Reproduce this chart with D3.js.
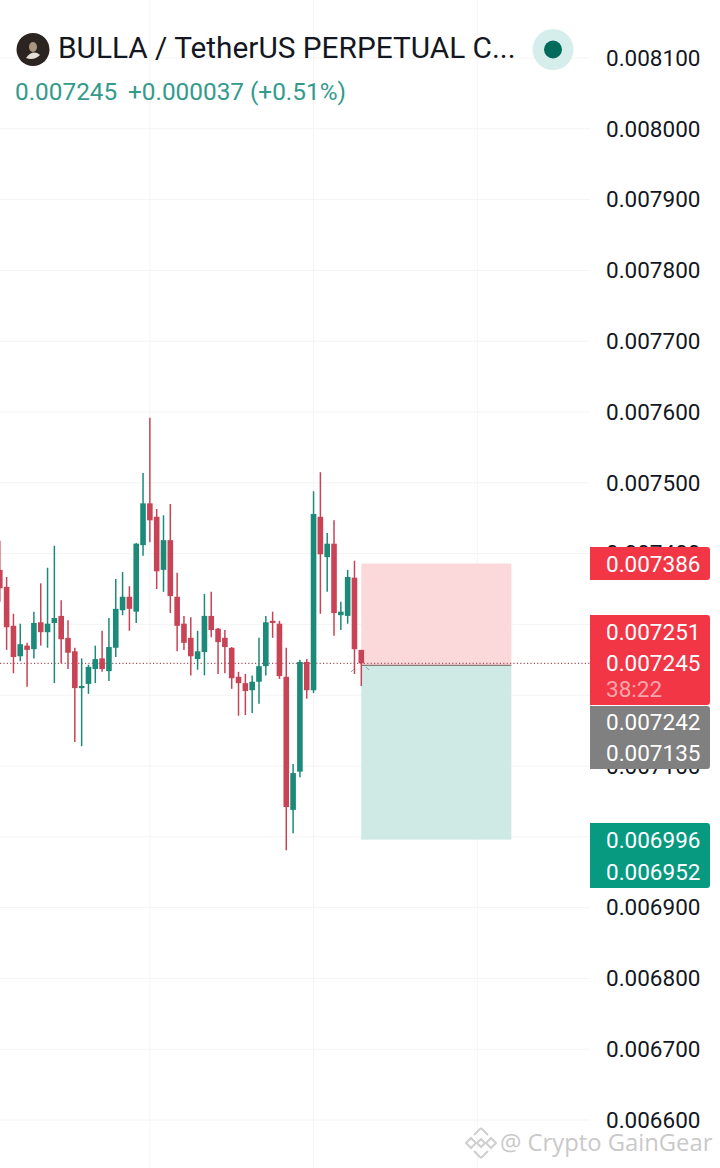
<!DOCTYPE html>
<html>
<head>
<meta charset="utf-8">
<script src="https://cdn.jsdelivr.net/npm/d3@7"></script>
<style>
  html, body { margin: 0; padding: 0; background: #fff; }
  svg { display: block; }
  text { font-family: Roboto, sans-serif; }
</style>
</head>
<body>
<svg width="720" height="1168"></svg>
<script>
// prices are in millionths, 7245 means 0.007245
var opens = [7377,7353,7298,7255,7270,7265,7303,7289,7302,7312,7281,7262,7210,7216,7237,7252,7234,7267,7320,7339,7318,7412,7471,7452,7377,7419,7339,7301,7281,7251,7261,7312,7294,7281,7267,7226,7217,7207,7219,7241,7305,7301,7226,7038,7092,7247,7207,7452,7395,7414,7313,7312,7366,7264];
var highs = [7418,7367,7315,7301,7274,7318,7358,7380,7411,7334,7306,7267,7252,7243,7270,7291,7309,7364,7374,7354,7415,7514,7592,7463,7454,7470,7373,7312,7310,7291,7343,7346,7295,7292,7268,7233,7230,7228,7281,7312,7318,7305,7267,7103,7250,7251,7488,7515,7429,7447,7332,7377,7390,7264];
var lows = [7332,7264,7231,7248,7212,7252,7270,7267,7217,7245,7237,7134,7128,7202,7217,7233,7220,7254,7313,7291,7302,7397,7416,7350,7346,7316,7262,7264,7228,7236,7228,7282,7230,7231,7209,7171,7172,7175,7188,7228,7281,7223,6981,7005,7084,7195,7203,7315,7346,7284,7292,7301,7230,7213];
var closes = [7351,7296,7254,7272,7264,7302,7289,7301,7309,7279,7260,7210,7213,7240,7251,7237,7268,7322,7339,7322,7414,7471,7447,7375,7419,7340,7298,7274,7255,7262,7312,7292,7275,7268,7224,7217,7206,7219,7241,7303,7302,7227,7042,7090,7247,7207,7456,7399,7414,7316,7318,7367,7265,7245];

var priceTicks = [8100,8000,7900,7800,7700,7600,7500,7400,7300,7200,7100,7000,6900,6800,6700,6600];
// these three sit completely behind the badges, so only their grid lines show
var coveredLabels = [7300,7200,7000];
var timeGrid = [22,46,70];

var lastPrice = 7245;
var stopPrice = 7386, entryPrice = 7242, targetPrice = 6996;
var boxStart = 53, boxEnd = 75;

var redBadgeLabels = ['0.007251','0.007245','38:22'];
var greyBadgeLabels = ['0.007242','0.007135'];
var greenBadgeLabels = ['0.006996','0.006952'];

var titleText = 'BULLA / TetherUS PERPETUAL C...';
var quoteText = ['0.007245','+0.000037 (+0.51%)'];
var watermark = '@ Crypto GainGear';

var UP = '#1c8a78', DOWN = '#c94356';
var BADGE_RED = '#f23645', BADGE_GREY = '#808080', BADGE_GREEN = '#089981';
var PLOT_RIGHT = 590, BADGE_W = 120;

var svg = d3.select('svg');
var x = d3.scaleLinear().domain([0, 53]).range([-0.2, 361.3]);
var y = d3.scaleLinear().domain([6600, 8100]).range([1120, 58]);

// grid
svg.append('g').selectAll('line').data(priceTicks).join('line')
  .attr('x1', 0).attr('x2', PLOT_RIGHT)
  .attr('y1', function (d) { return y(d); }).attr('y2', function (d) { return y(d); })
  .attr('stroke', '#f4f4f4').attr('stroke-width', 1);
svg.append('g').selectAll('line').data(timeGrid).join('line')
  .attr('x1', function (d) { return x(d); }).attr('x2', function (d) { return x(d); })
  .attr('y1', 0).attr('y2', 1168)
  .attr('stroke', '#f4f4f4').attr('stroke-width', 1);

// risk / reward boxes
svg.append('rect')
  .attr('x', x(boxStart)).attr('width', x(boxEnd) - x(boxStart))
  .attr('y', y(stopPrice)).attr('height', y(entryPrice) - y(stopPrice))
  .attr('fill', '#fbd8da');
svg.append('rect')
  .attr('x', x(boxStart)).attr('width', x(boxEnd) - x(boxStart))
  .attr('y', y(entryPrice)).attr('height', y(targetPrice) - y(entryPrice))
  .attr('fill', '#cfe9e4');
svg.append('line')
  .attr('x1', x(boxStart)).attr('x2', x(boxEnd))
  .attr('y1', y(entryPrice)).attr('y2', y(entryPrice))
  .attr('stroke', '#8a7a7a').attr('stroke-width', 1.3);

// last price line
svg.append('line')
  .attr('x1', 0).attr('x2', PLOT_RIGHT)
  .attr('y1', y(lastPrice)).attr('y2', y(lastPrice))
  .attr('stroke', '#a5555f').attr('stroke-width', 1.2).attr('stroke-dasharray', '1.2 2.2');

// candles
var candles = svg.append('g').selectAll('g').data(opens).join('g')
  .attr('fill', function (d, i) { return closes[i] >= d ? UP : DOWN; })
  .attr('stroke', function (d, i) { return closes[i] >= d ? UP : DOWN; });
candles.append('line')
  .attr('x1', function (d, i) { return x(i); }).attr('x2', function (d, i) { return x(i); })
  .attr('y1', function (d, i) { return y(highs[i]); }).attr('y2', function (d, i) { return y(lows[i]); })
  .attr('stroke-width', 1.5);
candles.append('rect')
  .attr('stroke', 'none')
  .attr('x', function (d, i) { return x(i) - 2.8; }).attr('width', 5.6)
  .attr('y', function (d, i) { return y(Math.max(d, closes[i])); })
  .attr('height', function (d, i) { return Math.max(1.8, Math.abs(y(d) - y(closes[i]))); });

// small drawing handles near the entry line
svg.append('path').attr('d', 'M366 667l3 3M351 672l3-3')
  .attr('stroke', '#9aa5a3').attr('stroke-width', 1).attr('fill', 'none');

// price axis
var axis = d3.axisRight(y)
  .tickValues(priceTicks.filter(function (d) { return coveredLabels.indexOf(d) < 0; }))
  .tickSize(0)
  .tickPadding(0)
  .tickFormat(function (d) { return (d / 1e6).toFixed(6); });
var axisG = svg.append('g').attr('transform', 'translate(606,0)').call(axis);
axisG.select('.domain').remove();
axisG.selectAll('text')
  .attr('font-family', 'Roboto, sans-serif')
  .attr('font-size', 22.5)
  .attr('fill', '#131722');

// badges on top of the axis
function badge(top, height, color, labels, rows) {
  svg.append('path')
    .attr('d', 'M' + PLOT_RIGHT + ' ' + top + 'H' + (PLOT_RIGHT + BADGE_W - 3) +
      'q3 0 3 3V' + (top + height - 3) + 'q0 3 -3 3H' + PLOT_RIGHT + 'Z')
    .attr('fill', color);
  labels.forEach(function (t, i) {
    svg.append('text')
      .attr('x', 606).attr('y', rows[i]).attr('dy', '0.36em')
      .attr('font-size', 22.5)
      .attr('fill', t === '38:22' ? '#fba5ac' : '#fff')
      .text(t);
  });
}
badge(547, 33, BADGE_RED, [(stopPrice / 1e6).toFixed(6)], [563.5]);
badge(615, 90, BADGE_RED, redBadgeLabels, [632, 663, 689]);
badge(706, 63, BADGE_GREY, greyBadgeLabels, [722, 753]);
badge(823, 65, BADGE_GREEN, greenBadgeLabels, [840, 872]);

// header
svg.append('circle').attr('cx', 33).attr('cy', 49.5).attr('r', 16.5).attr('fill', '#2b2420');
svg.append('ellipse').attr('cx', 33).attr('cy', 47).attr('rx', 4).attr('ry', 5).attr('fill', '#a89582');
svg.append('path').attr('d', 'M26 58q7-9 14-3q-6 6-14 3Z').attr('fill', '#e6dfd6');
svg.append('text').attr('x', 58).attr('y', 58).attr('font-size', 29.8).attr('fill', '#131722').text(titleText);
svg.append('text').attr('x', 15).attr('y', 100).attr('font-size', 24.35).attr('fill', '#349a8c').text(quoteText[0]);
svg.append('text').attr('x', 128).attr('y', 100).attr('font-size', 24.35).attr('fill', '#349a8c').text(quoteText[1]);
svg.append('circle').attr('cx', 553).attr('cy', 49.5).attr('r', 20.5).attr('fill', '#d6eeeb');
svg.append('circle').attr('cx', 553).attr('cy', 49.5).attr('r', 9).attr('fill', '#006b5b');

// watermark
var mark = svg.append('g').attr('transform', 'translate(481,1143)')
  .attr('fill', 'none').attr('stroke', '#cfcfcf').attr('stroke-width', 2);
mark.append('path').attr('d', 'M0 -15L7 -8M0 -15L-7 -8M0 15L7 8M0 15L-7 8');
mark.append('path').attr('d', 'M-15 0L-10 -5L-5 0L-10 5ZM15 0L10 -5L5 0L10 5ZM0 -4L4 0L0 4L-4 0Z');
svg.append('text').attr('x', 500).attr('y', 1151)
  .style('font-family', '"Open Sans", sans-serif')
  .attr('font-size', 23.8).attr('fill', '#c9c9c9').text(watermark);
</script>
</body>
</html>
